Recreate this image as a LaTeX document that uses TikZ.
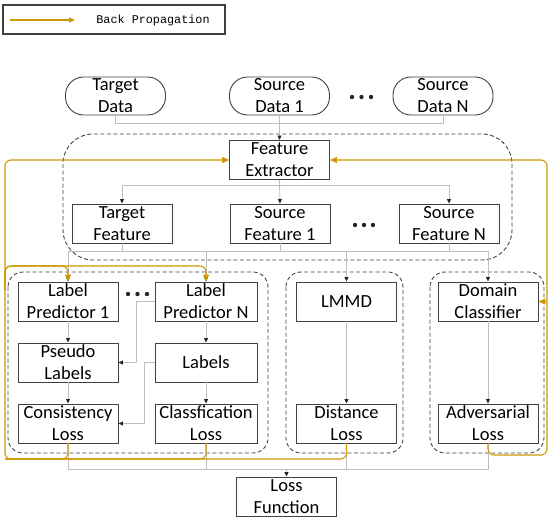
\documentclass[tikz,border=0pt]{standalone}
\usepackage{fontspec}
\setmainfont{Carlito}
\newfontfamily\legfont{Liberation Mono}
\usetikzlibrary{arrows.meta}
\definecolor{bp}{RGB}{204,153,0}
\definecolor{bx}{RGB}{64,64,64}
\definecolor{ln}{RGB}{190,190,190}
\begin{document}
\begin{tikzpicture}[x=1pt,y=-1pt,
  box/.style={draw=bx, line width=0.9pt, minimum width=100pt, minimum height=39pt, inner sep=0pt, align=center, font=\fontsize{18.5}{22}\selectfont},
  pill/.style={box, rounded corners=18pt, minimum height=38pt},
  grp/.style={draw=bx, dash pattern=on 4pt off 2.5pt, line width=0.9pt, rounded corners=#1},
  gl/.style={draw=ln, line width=0.8pt},
  ga/.style={gl, -{Triangle[length=4.5pt,width=4pt,color=black!85]}},
  bpl/.style={draw=bp, line width=1.1pt, rounded corners=6pt},
  bpa/.style={bpl, -{Triangle[length=7pt,width=6pt]}},
  dot/.style={fill=black!85}
]
\useasboundingbox (0,0) rectangle (550,517);

% legend
\node[draw=bx, line width=1.3pt, minimum width=222pt, minimum height=29pt, inner sep=0pt] (leg) at (114,19.5) {};
\coordinate (la) at (10,20);
\coordinate (lb) at (75,20);
\draw[bpl, -{Triangle[length=6pt,width=5pt]}] (la) -- (lb);
\node[font=\legfont\fontsize{11.8}{14}\selectfont, inner sep=0pt] (lt) at (153,20) {Back Propagation};

% groups
\draw[grp=30pt] (63,134) rectangle (512,260);
\draw[grp=15pt] (8,272) rectangle (268,453);
\draw[grp=15pt] (286,272) rectangle (403,453);
\draw[grp=15pt] (430,272) rectangle (544,453);

% data
\node[pill] (td) at (115.5,96) {Target\\Data};
\node[pill] (sd1) at (279.5,96) {Source\\Data 1};
\node[pill] (sdn) at (443,96) {Source\\Data N};
\fill[dot] (352,97) circle (2.2pt) (361.5,97) circle (2.2pt) (371,97) circle (2.2pt);

% feature extractor and features
\node[box] (fe) at (279.5,160) {Feature\\Extractor};
\node[box] (tf) at (122,223.5) {Target\\Feature};
\node[box] (sf1) at (280,223.5) {Source\\Feature 1};
\node[box] (sfn) at (449,223.5) {Source\\Feature N};
\fill[dot] (355,225) circle (2.2pt) (364,225) circle (2.2pt) (373,225) circle (2.2pt);

% label group
\node[box] (lp1) at (68,301.5) {Label\\Predictor 1};
\node[box, minimum width=102pt] (lpn) at (206,301.5) {Label\\Predictor N};
\fill[dot] (128,294) circle (2.2pt) (137.5,294) circle (2.2pt) (147,294) circle (2.2pt);
\node[box] (pl) at (68,362.5) {Pseudo\\Labels};
\node[box, minimum width=102pt] (lab) at (206,362.5) {Labels};
\node[box] (cl) at (68,423.5) {Consistency\\Loss};
\node[box, minimum width=102pt] (clf) at (206,423.5) {Classfication\\Loss};

% lmmd group
\node[box] (lm) at (346.5,301.5) {LMMD};
\node[box] (dl) at (346.5,423.5) {Distance\\Loss};

% domain group
\node[box] (dc) at (488,301.5) {Domain\\Classifier};
\node[box] (al) at (488,423.5) {Adversarial\\Loss};

% loss function
\node[box] (lf) at (286.5,496.5) {Loss\\Function};

% gray connectors
\coordinate (j1) at (279.5,123);
\draw[gl] (td.south) |- (j1);
\draw[gl] (sdn.south) |- (j1);
\draw[ga] (sd1.south) -- (fe.north);

\coordinate (j2) at (279.5,185);
\draw[gl] (fe.south) -- (j2);
\draw[ga] (j2) -| (tf.north);
\draw[ga] (j2) -- (sf1.north);
\draw[ga] (j2) -| (sfn.north);

\coordinate (bus) at (280,251);
\draw[gl] (tf.south) -- (tf.south |- bus);
\draw[gl] (sf1.south) -- (bus);
\draw[gl] (sfn.south) -- (sfn.south |- bus);
\draw[ga] (bus) -| (lp1.north);
\draw[ga] (bus) -| (lpn.north);
\draw[ga] (bus) -| (lm.north);
\draw[ga] (bus) -| (dc.north);

\draw[ga] (lp1) -- (pl);
\draw[ga] (lpn) -- (lab);
\draw[ga] (pl) -- (cl);
\draw[ga] (lab) -- (clf);
\draw[ga] (lm) -- (dl);
\draw[ga] (dc) -- (al);
\draw[ga] (lpn.west) -- ++(-18,0) |- (pl.east);
\draw[ga] (lab.west) -- ++(-10,0) |- (cl.east);

\coordinate (lfb) at (286.5,469);
\draw[gl] (cl.south) |- (lfb);
\draw[gl] (clf.south) -- (clf.south |- lfb);
\draw[gl] (dl.south) -- (dl.south |- lfb);
\draw[gl] (al.south) |- (lfb);
\draw[ga] (lfb) -- (lf.north);

% back propagation (left)
\coordinate (oLT) at (5,160);
\coordinate (oLB) at (5,459);
\coordinate (oLA) at (5,290);
\coordinate (oLP) at (5,266);
\draw[bpa] (dl.south) |- (oLB) -- (oLT) -- (fe.west);
\draw[bpl] (cl.south) |- (oLB);
\draw[bpl] (clf.south) |- (oLB);
\draw[bpa] (oLA) -- (oLP) -| (lp1.north);
\draw[bpa] (oLA) -- (oLP) -| (lpn.north);

% back propagation (right)
\coordinate (oRT) at (547,160);
\coordinate (oRB) at (547,455);
\draw[bpa] (al.south) |- (oRB) -- (oRT) -- (fe.east);
\draw[bpa] (oRB |- dc.east) -- (dc.east);
\end{tikzpicture}
\end{document}
